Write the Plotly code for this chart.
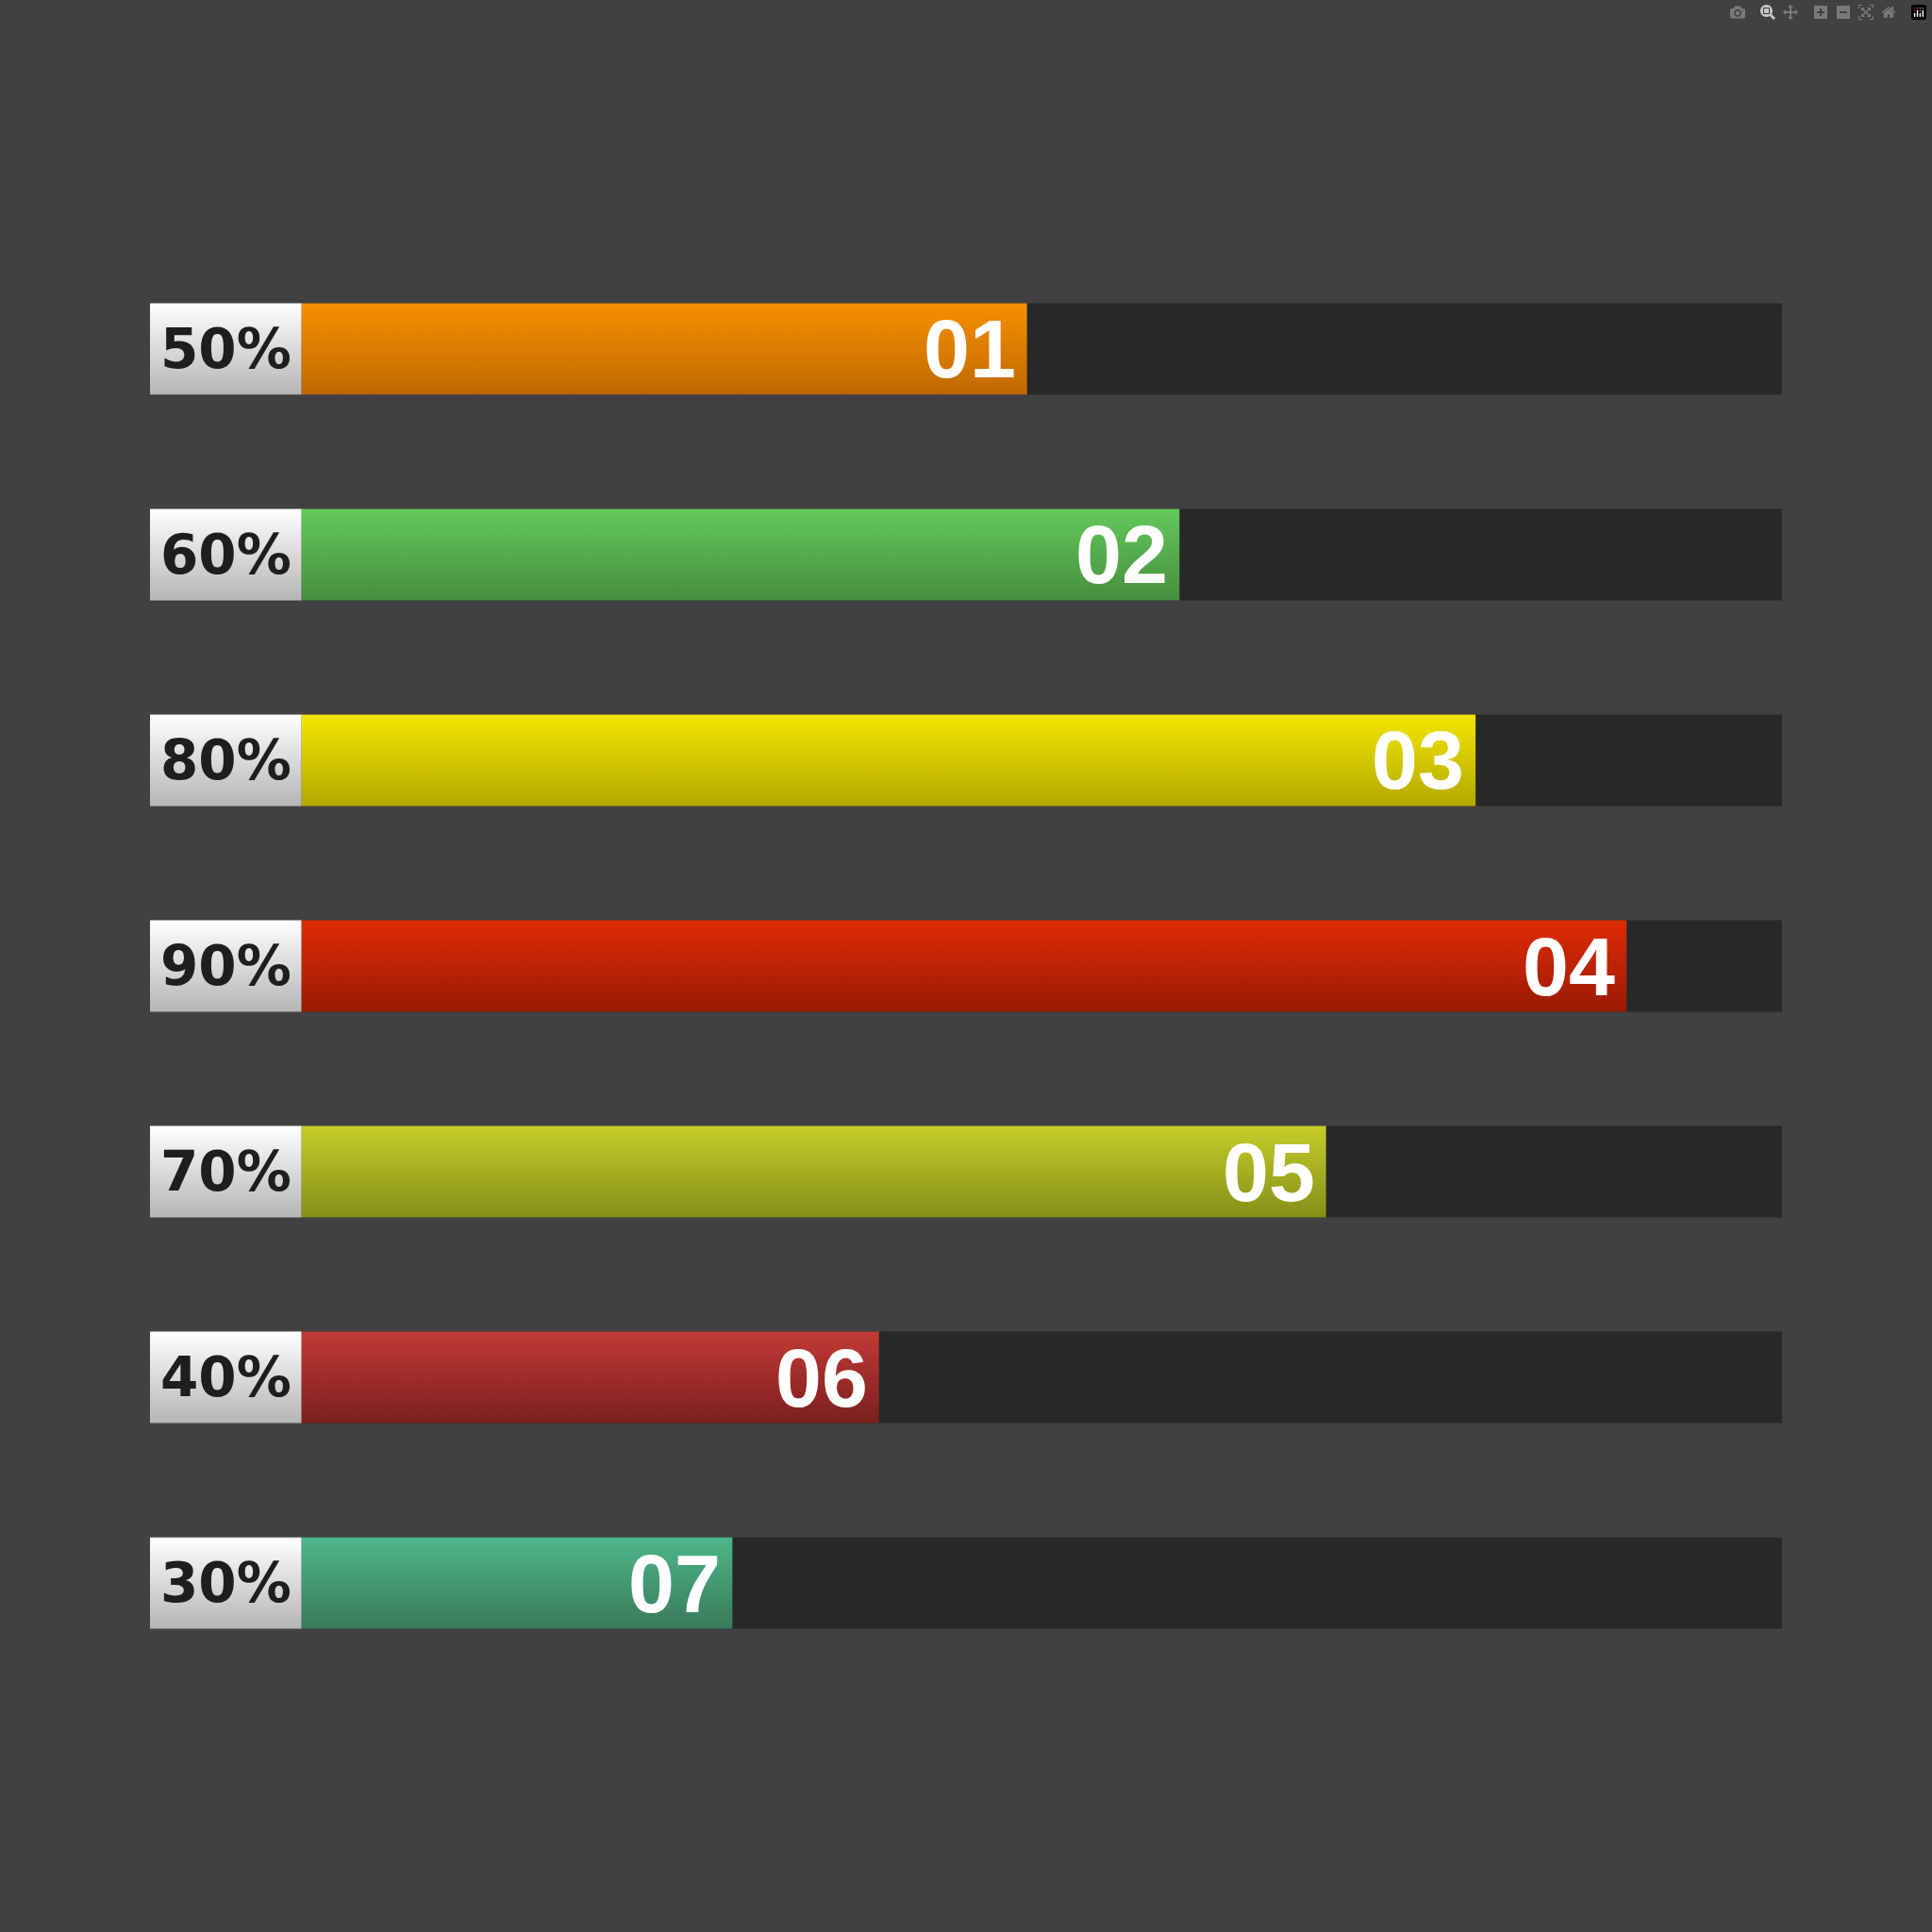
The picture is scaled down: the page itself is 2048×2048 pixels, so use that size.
import plotly.graph_objects as go

labels = ["01", "02", "03", "04", "05", "06", "07"]
values = [49, 59.3, 79.3, 89.5, 69.2, 39, 29.1]
pct_text = ["50%", "60%", "80%", "90%", "70%", "40%", "30%"]
top_colors = ["#f79000", "#63c95b", "#f2e600", "#de2b06", "#c5cd29", "#c23a35", "#4fb68c"]
bot_colors = ["#bf6900", "#478d3e", "#b3a800", "#9a1a04", "#858f18", "#7a1f1f", "#387a5c"]

H = 0.222
BOX = -10.24
fig = go.Figure()
for i, v in enumerate(values):
    fig.add_trace(go.Scatter(x=[0, 100, 100, 0, 0], y=[i-H, i-H, i+H, i+H, i-H], fill="toself",
                             fillcolor="#282828", mode="lines", line=dict(width=0), hoverinfo="skip"))
    fig.add_trace(go.Scatter(x=[BOX, 0, 0, BOX, BOX], y=[i-H, i-H, i+H, i+H, i-H], fill="toself",
                             fillgradient=dict(type="vertical", start=i-H, stop=i+H,
                                               colorscale=[[0, "#ffffff"], [1, "#b5b5b5"]]),
                             mode="lines", line=dict(width=0), hoverinfo="skip"))
    fig.add_trace(go.Scatter(x=[0, v, v, 0, 0], y=[i-H, i-H, i+H, i+H, i-H], fill="toself",
                             fillgradient=dict(type="vertical", start=i-H, stop=i+H,
                                               colorscale=[[0, top_colors[i]], [1, bot_colors[i]]]),
                             mode="lines", line=dict(width=0), hoverinfo="skip"))
    fig.add_annotation(x=v, y=i, text="<b>%s</b>" % labels[i], showarrow=False, xanchor="right",
                       xshift=-10, font=dict(family="Liberation Sans Narrow, Liberation Sans", size=88, color="white"))
    fig.add_annotation(x=BOX/2, y=i, text="<b>%s</b>" % pct_text[i], showarrow=False,
                       font=dict(family="DejaVu Sans", size=58, color="#1e1e1e"))

fig.update_layout(width=2048, height=2048, showlegend=False,
                  paper_bgcolor="#414042", plot_bgcolor="#414042",
                  margin=dict(l=159, r=159, t=0, b=0))
fig.update_xaxes(range=[BOX, 100], visible=False)
fig.update_yaxes(range=[7.697, -1.697], visible=False)
fig.write_html("out.html", post_script="document.body.style.margin='0';document.body.style.background='#414042';")
